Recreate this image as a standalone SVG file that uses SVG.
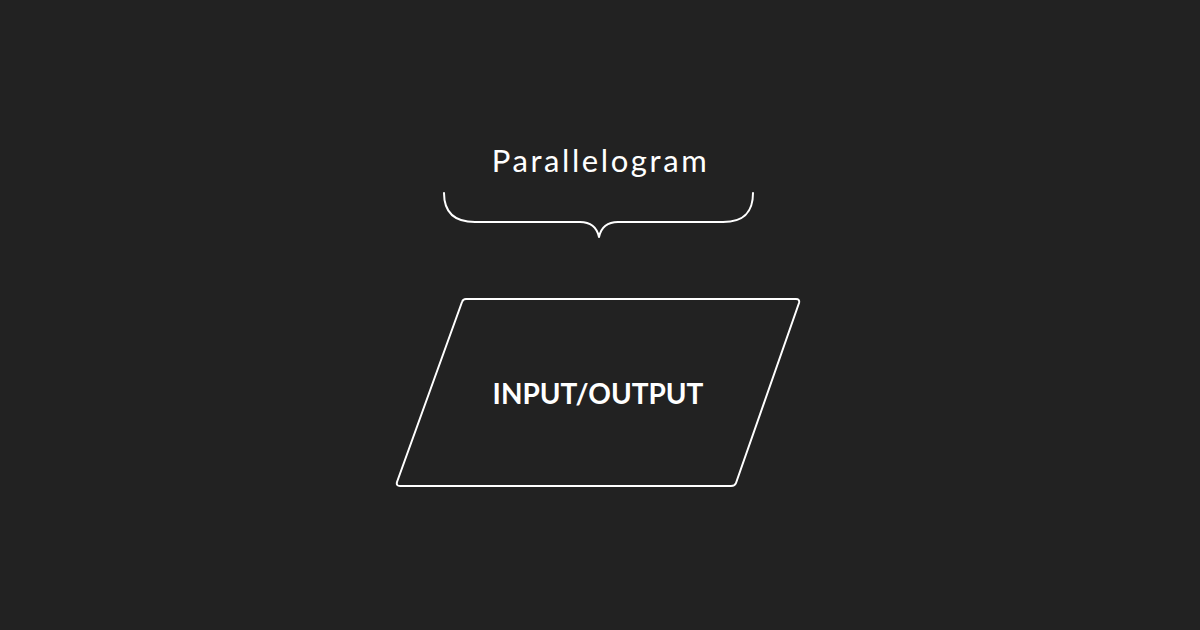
<svg xmlns="http://www.w3.org/2000/svg" width="1200" height="630" viewBox="0 0 1200 630">
<style>
.line{fill:none;stroke:#ffffff;stroke-width:2;stroke-linejoin:round;stroke-linecap:round}
.label{fill:#ffffff;font-family:"Lato","Open Sans","Liberation Sans",sans-serif;text-anchor:middle}
</style>
<rect width="1200" height="630" fill="#222222"/>
<g id="brace-label">
<text class="label" x="600.5" y="172" font-size="31" font-weight="400" letter-spacing="2.6">Parallelogram</text>
<path class="line" d="M444,193 C444,210 452,222 475,222 L580,222 C592,222 597,228 599,237 C601,228 606,222 618,222 L723,222 C746,222 753,210 753,193"/>
</g>
<g id="io-node">
<path class="line" d="M466,299 L796,299 Q800,299 799,303 L736,483 Q735,486 731,486 L400,486 Q396,486 397,482 L462,302 Q463,299 466,299 Z"/>
<text class="label" x="598" y="404" font-size="28" font-weight="700">INPUT/OUTPUT</text>
</g>
<g id="connectors"/>
</svg>
